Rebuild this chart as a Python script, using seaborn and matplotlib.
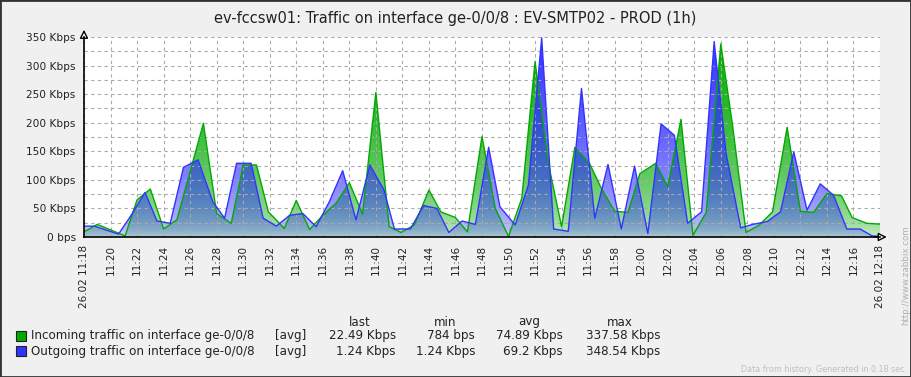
import numpy as np
import matplotlib
matplotlib.use("Agg")
import matplotlib.pyplot as plt
import seaborn as sns
from matplotlib.patches import PathPatch, Rectangle

# minutes after 11:18 and traffic in Kbps
in_time = [0, 1.0, 3.1, 4.0, 5.0, 6.0, 7.0, 9.0, 10.0, 11.1, 12.0, 13.0, 13.9, 15.1,
           16.0, 17.0, 18.0, 19.0, 20.0, 21.0, 22.0, 23.0, 23.9, 24.9, 26.0, 26.9,
           28.0, 28.9, 30.0, 31.0, 32.0, 33.0, 34.0, 35.0, 36.0, 37.0, 38.1, 39.0,
           40.0, 41.0, 41.9, 43.1, 44.0, 45.0, 45.9, 46.9, 48.0, 48.9, 49.9, 50.9,
           51.9, 53.0, 54.0, 55.0, 56.0, 57.1, 57.9, 59.0, 60.0]
in_kbps = [9, 22, 2, 65, 84, 14, 30, 199, 41, 24, 126, 126, 44, 15,
           64, 13, 38, 59, 95, 40, 253, 18, 8, 21, 82, 44,
           34, 9, 176, 50, 1, 68, 307, 129, 18, 157, 129, 85,
           45, 43, 111, 129, 88, 206, 3, 43, 338, 193, 8, 21,
           44, 192, 45, 43, 76, 72, 34, 24, 22.5]

out_time = [0, 0.8, 2.6, 3.5, 4.6, 5.5, 6.5, 7.5, 8.6, 9.7, 10.6, 11.5, 12.6, 13.5,
            14.5, 15.5, 16.5, 17.5, 18.5, 19.5, 20.5, 21.55, 22.6, 23.4, 24.6, 25.6,
            26.6, 27.5, 28.5, 29.5, 30.5, 31.35, 32.5, 33.5, 34.5, 35.4, 36.5, 37.5,
            38.5, 39.5, 40.5, 41.5, 42.5, 43.5, 44.5, 45.5, 46.55, 47.5, 48.4, 49.5,
            50.4, 51.5, 52.5, 53.5, 54.5, 55.5, 56.5, 57.5, 58.5, 59.4, 60.0]
out_kbps = [19, 19, 5, 36, 78, 28, 24, 122, 135, 62, 33, 129, 129, 33,
            19, 38, 41, 18, 62, 116, 30, 126, 83, 14, 14, 55,
            50, 8, 28, 22, 157, 53, 21, 91, 348.5, 14, 10, 260,
            33, 127, 14, 124, 6, 198, 178, 24, 44, 342, 146, 16,
            22, 27, 44, 149, 47, 93, 73, 14, 14, 2, 1.24]

tick_minutes = list(range(0, 61, 2))
tick_labels = ['26.02 11:18', '11:20', '11:22', '11:24', '11:26', '11:28', '11:30',
               '11:32', '11:34', '11:36', '11:38', '11:40', '11:42', '11:44', '11:46',
               '11:48', '11:50', '11:52', '11:54', '11:56', '11:58', '12:00', '12:02',
               '12:04', '12:06', '12:08', '12:10', '12:12', '12:14', '12:16',
               '26.02 12:18']
red_labels = ['26.02 11:18', '12:00', '26.02 12:18']
y_ticks = [0, 50, 100, 150, 200, 250, 300, 350]
y_labels = ['0 bps', '50 Kbps', '100 Kbps', '150 Kbps', '200 Kbps', '250 Kbps',
            '300 Kbps', '350 Kbps']

legend_names = ['Incoming traffic on interface ge-0/0/8',
                'Outgoing traffic on interface ge-0/0/8']
legend_last = ['22.49 Kbps', '1.24 Kbps']
legend_min = ['784 bps', '1.24 Kbps']
legend_avg = ['74.89 Kbps', '69.2 Kbps']
legend_max = ['337.58 Kbps', '348.54 Kbps']

green = '#00aa00'
blue = '#3333ff'

sns.set_style("white")
plt.rcParams['font.family'] = ['DejaVu Sans']

W, H = 911, 377
fig = plt.figure(figsize=(W / 100, H / 100), dpi=100, facecolor='#f0f0f0')
ax = fig.add_axes([84 / W, 1 - 237 / H, 796 / W, 200 / H])
ax.set_facecolor('white')


def gradient_fill(ax, x, y, rgb, ymax=350):
    poly = ax.fill_between(x, y, 0, color='none', lw=0)
    patch = PathPatch(poly.get_paths()[0], transform=ax.transData, fc='none', ec='none')
    ax.add_patch(patch)
    h = np.linspace(0, 1, 256)[:, None]
    img = np.zeros((256, 2, 4))
    img[..., :3] = matplotlib.colors.to_rgb(rgb)
    img[..., 3] = 0.16 + 0.84 * h ** 0.5
    im = ax.imshow(img, extent=(0, 60, 0, ymax), origin='lower', aspect='auto',
                   interpolation='bilinear', zorder=1)
    im.set_clip_path(patch)


gradient_fill(ax, in_time, in_kbps, green)
gradient_fill(ax, out_time, out_kbps, blue)

sns.lineplot(x=in_time, y=in_kbps, ax=ax, color=green, lw=1.0, zorder=3)
sns.lineplot(x=out_time, y=out_kbps, ax=ax, color=blue, lw=1.0, zorder=3)

ax.set_xlim(0, 60)
ax.set_ylim(0, 350)
ax.set_xticks(tick_minutes)
ax.set_xticklabels(tick_labels, rotation=90, fontsize=7.5)
for lab in ax.get_xticklabels():
    if lab.get_text() in red_labels:
        lab.set_color('#aa4444')
ax.set_yticks(y_ticks)
ax.set_yticklabels(y_labels, fontsize=7.6)
ax.set_yticks(range(25, 350, 50), minor=True)
ax.tick_params(axis='both', which='both', length=0, colors='#222222')
ax.tick_params(axis='y', pad=6)
ax.tick_params(axis='x', pad=5.5)
ax.set_axisbelow(False)
ax.grid(True, which='both', axis='both', color='#aaaaaa', lw=0.8, ls=(0, (3, 3)))
ax.set_xlabel('')
ax.set_ylabel('')

for side in ['top', 'right']:
    ax.spines[side].set_visible(False)
for side in ['left', 'bottom']:
    ax.spines[side].set_color('black')
    ax.spines[side].set_linewidth(1.2)
    ax.spines[side].set_zorder(4)

ax.annotate('', xy=(0, 1.05), xytext=(0, 0.99), xycoords='axes fraction',
            arrowprops=dict(arrowstyle='-|>,head_length=0.5,head_width=0.25',
                            fc='white', ec='black', lw=1.0), annotation_clip=False)
ax.annotate('', xy=(1.012, 0), xytext=(0.99, 0), xycoords='axes fraction',
            arrowprops=dict(arrowstyle='-|>,head_length=0.5,head_width=0.25',
                            fc='white', ec='black', lw=1.0), annotation_clip=False)

fig.text(455 / W, 1 - 19 / H,
         'ev-fccsw01: Traffic on interface ge-0/0/8 : EV-SMTP02 - PROD (1h)',
         ha='center', va='center', fontsize=10.5, color='#222222')

# legend
fs = 8.6
fig.text(360 / W, 1 - 322 / H, 'last', ha='center', va='center', fontsize=fs, color='#222222')
fig.text(445 / W, 1 - 322 / H, 'min', ha='center', va='center', fontsize=fs, color='#222222')
fig.text(529 / W, 1 - 322 / H, 'avg', ha='center', va='center', fontsize=fs, color='#222222')
fig.text(620 / W, 1 - 322 / H, 'max', ha='center', va='center', fontsize=fs, color='#222222')
for i, col in enumerate([green, blue]):
    yc = 336 + 15 * i
    fig.patches.append(Rectangle((16 / W, 1 - (yc + 5) / H), 10 / W, 10 / H,
                                 transform=fig.transFigure, fc=col, ec='#222222', lw=0.8))
    fig.text(31 / W, 1 - yc / H, legend_names[i], ha='left', va='center', fontsize=fs, color='#222222')
    fig.text(275 / W, 1 - yc / H, '[avg]', ha='left', va='center', fontsize=fs, color='#222222')
    fig.text(396 / W, 1 - yc / H, legend_last[i], ha='right', va='center', fontsize=fs, color='#222222')
    fig.text(475 / W, 1 - yc / H, legend_min[i], ha='right', va='center', fontsize=fs, color='#222222')
    fig.text(563 / W, 1 - yc / H, legend_avg[i], ha='right', va='center', fontsize=fs, color='#222222')
    fig.text(660 / W, 1 - yc / H, legend_max[i], ha='right', va='center', fontsize=fs, color='#222222')

fig.text(907 / W, 1 - 369 / H, 'Data from history. Generated in 0.18 sec.',
         ha='right', va='center', fontsize=5.8, color='#c0c0c0')
fig.text(906 / W, 1 - 275 / H, 'http://www.zabbix.com', rotation=90,
         ha='center', va='center', fontsize=6.3, color='#b0b0b0')

fig.patches.append(Rectangle((0, 0), 1, 1, transform=fig.transFigure, fill=False,
                             ec='#333333', lw=2))

fig.savefig('out.png', dpi=100, facecolor=fig.get_facecolor())
